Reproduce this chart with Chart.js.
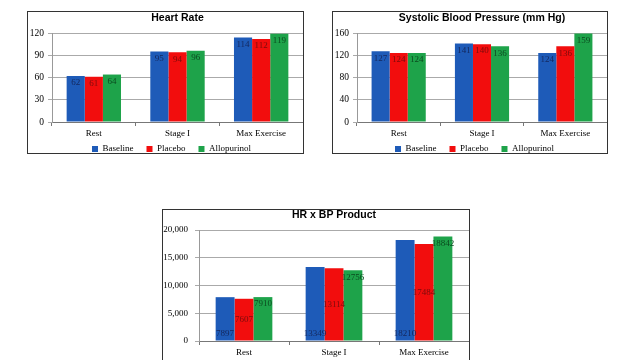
<!DOCTYPE html>
<html>
<head>
<meta charset="utf-8">
<script src="https://cdn.jsdelivr.net/npm/chart.js@4.4.1/dist/chart.umd.min.js"></script>
<style>
  body { margin: 0; width: 640px; height: 360px; overflow: hidden; background: #fff; position: relative; }
  .box { position: absolute; border: 1px solid #333; box-sizing: border-box; background: #fff; }
</style>
</head>
<body>
<div class="box" style="left:27px;top:11px;width:277px;height:143px"><canvas id="hr"></canvas></div>
<div class="box" style="left:332px;top:11px;width:276px;height:143px"><canvas id="sbp"></canvas></div>
<div class="box" style="left:162px;top:209px;width:308px;height:180px"><canvas id="prod"></canvas></div>
<script>
const categories = ['Rest', 'Stage I', 'Max Exercise'];
const seriesNames = ['Baseline', 'Placebo', 'Allopurinol'];

const hrBaseline = [62, 95, 114];
const hrPlacebo = [61, 94, 112];
const hrAllopurinol = [64, 96, 119];

const sbpBaseline = [127, 141, 124];
const sbpPlacebo = [124, 140, 136];
const sbpAllopurinol = [124, 136, 159];

const prodBaseline = [7897, 13349, 18210];
const prodPlacebo = [7607, 13114, 17484];
const prodAllopurinol = [7910, 12756, 18842];

const barColors = ['#1e5bb8', '#f20d0d', '#1ea34a'];
const labelColors = ['#14275c', '#7a0c0c', '#0b4a1f'];
const serif = 'Liberation Serif';

// title centred over the plot area, not the whole box
const boxTitle = {
    id: 'boxTitle',
    afterDraw(chart, args, opts) {
        const ctx = chart.ctx;
        const area = chart.chartArea;
        ctx.save();
        ctx.font = 'bold 10.5px "Liberation Sans"';
        ctx.fillStyle = '#000';
        ctx.textAlign = 'center';
        ctx.textBaseline = 'middle';
        ctx.fillText(opts.text, (area.left + area.right) / 2, opts.y);
        ctx.restore();
    }
};

// move the legend a little, excel puts it off-centre
const legendNudge = {
    id: 'legendNudge',
    afterLayout(chart, args, opts) {
        const lg = chart.legend;
        if (!lg) return;
        lg.left += opts.dx;
        lg.right += opts.dx;
        lg.top += opts.dy;
        lg.bottom = chart.height; // legend clips to its own box
    }
};

// value labels like the excel ones: inside end, centre or inside base
const barLabels = {
    id: 'barLabels',
    afterDatasetsDraw(chart, args, opts) {
        const ctx = chart.ctx;
        ctx.save();
        ctx.font = '9px "' + serif + '"';
        ctx.textAlign = 'center';
        ctx.textBaseline = 'middle';
        chart.data.datasets.forEach((ds, i) => {
            const pos = opts.positions[i];
            chart.getDatasetMeta(i).data.forEach((bar, j) => {
                let y;
                if (pos === 'base') y = bar.base - 7;
                else if (pos === 'center') y = (bar.y + bar.base) / 2;
                else y = bar.y + 7;
                ctx.fillStyle = labelColors[i];
                ctx.fillText(String(ds.data[j]), bar.x, y);
            });
        });
        ctx.restore();
    }
};

function makeChart(id, values, cfg) {
    return new Chart(document.getElementById(id), {
        type: 'bar',
        data: {
            labels: categories,
            datasets: values.map((v, i) => ({
                label: seriesNames[i],
                data: v,
                backgroundColor: barColors[i],
                borderWidth: 0,
                barPercentage: 1,
                categoryPercentage: cfg.catPct
            }))
        },
        options: {
            responsive: true,
            maintainAspectRatio: false,
            animation: false,
            layout: {padding: {left: 0, top: cfg.padTop, right: 0, bottom: 0}},
            scales: {
                x: {
                    afterFit: s => { s.height = 18; },
                    grid: {offset: true, drawOnChartArea: false, drawTicks: true, tickLength: 4, color: '#777'},
                    border: {color: '#777'},
                    ticks: {color: '#000', padding: 2, font: {family: serif, size: 9}}
                },
                y: {
                    min: 0,
                    max: cfg.max,
                    afterFit: s => { s.width = cfg.yWidth; },
                    grid: {color: '#aaa', tickLength: 4},
                    border: {color: '#999'},
                    ticks: {
                        stepSize: cfg.step,
                        color: '#000',
                        padding: cfg.tickPad,
                        font: {family: serif, size: cfg.yFont},
                        callback: v => v.toLocaleString('en-US')
                    }
                }
            },
            plugins: {
                legend: {
                    position: 'bottom',
                    maxHeight: cfg.legendH,
                    labels: {
                        boxWidth: 6,
                        boxHeight: 6,
                        padding: 13,
                        color: '#000',
                        font: {family: serif, size: 9}
                    }
                },
                tooltip: {enabled: false},
                legendNudge: {dx: cfg.legendDx, dy: -8.5},
                boxTitle: {text: cfg.title, y: cfg.titleY},
                barLabels: {positions: cfg.positions}
            }
        },
        plugins: [boxTitle, legendNudge, barLabels]
    });
}

makeChart('hr', [hrBaseline, hrPlacebo, hrAllopurinol], {
    title: 'Heart Rate', titleY: 6.5, max: 120, step: 30,
    yWidth: 24, padTop: 21, tickPad: 4, yFont: 9.5, catPct: 0.65,
    legendH: 13, legendDx: 6,
    positions: ['end', 'end', 'end']
});

makeChart('sbp', [sbpBaseline, sbpPlacebo, sbpAllopurinol], {
    title: 'Systolic Blood Pressure (mm Hg)', titleY: 6.5, max: 160, step: 40,
    yWidth: 24, padTop: 21, tickPad: 4, yFont: 9.5, catPct: 0.65,
    legendH: 13, legendDx: 4.5,
    positions: ['end', 'end', 'end']
});

makeChart('prod', [prodBaseline, prodPlacebo, prodAllopurinol], {
    title: 'HR x BP Product', titleY: 5.5, max: 20000, step: 5000,
    yWidth: 36, padTop: 20, tickPad: 7, yFont: 9, catPct: 0.63,
    legendH: 29, legendDx: 0,
    positions: ['base', 'center', 'end']
});
</script>
</body>
</html>
